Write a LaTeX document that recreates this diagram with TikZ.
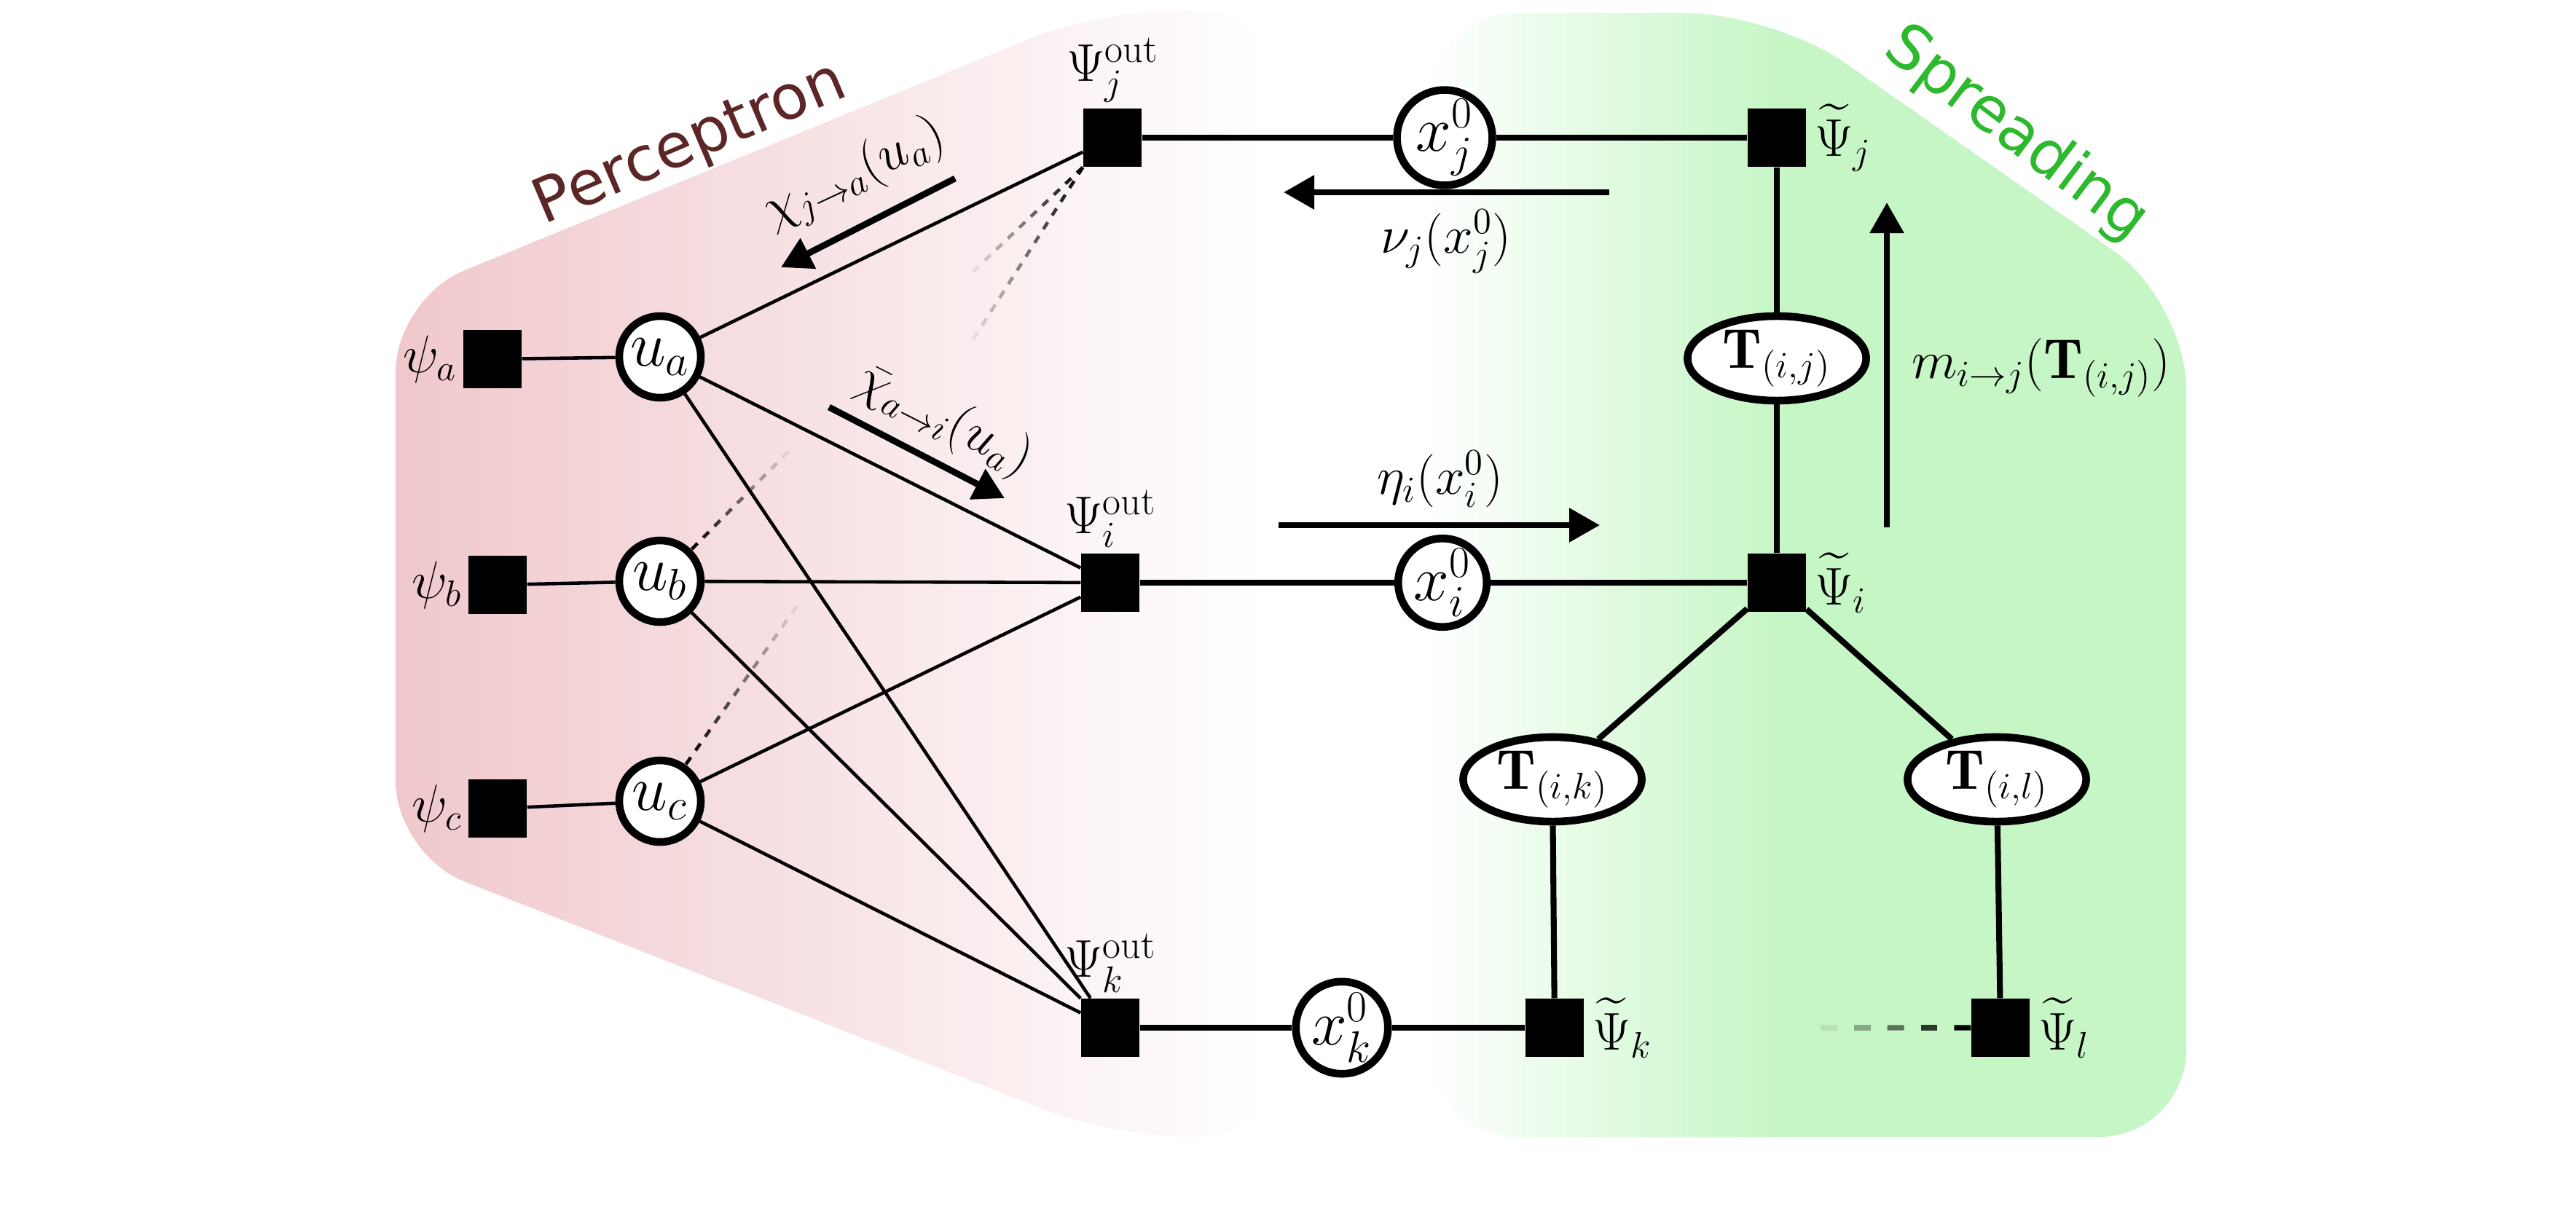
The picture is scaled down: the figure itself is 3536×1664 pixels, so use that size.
\documentclass[tikz,border=0pt]{standalone}
\usepackage{amsmath}
\usepackage{fontspec}
\newfontfamily\dejavu{DejaVu Sans}
\usetikzlibrary{shapes.geometric,arrows.meta,calc}
\definecolor{pinkc}{RGB}{240,200,204}
\definecolor{greenc}{RGB}{198,246,198}
\definecolor{perccol}{RGB}{92,38,38}
\definecolor{spreadcol}{RGB}{45,185,45}
\newcommand\fadedash[4]{%
  \foreach \k in {1,...,#3}{%
    \pgfmathsetmacro\fa{(\k-1)/#3}%
    \pgfmathsetmacro\fb{(\k-0.5)/#3}%
    \pgfmathsetmacro\op{1-0.92*(\k-1)/(#3-1)}%
    \draw[line width=#4, draw opacity=\op] ($(#1)!\fa!(#2)$) -- ($(#1)!\fb!(#2)$);
  }}
\tikzset{
  every node/.style={font=\fontsize{22}{26}\selectfont},
  fac/.style={fill=black, minimum size=0.8cm, inner sep=0pt},
  var/.style={circle, draw, line width=3pt, fill=white, minimum size=1.12cm, inner sep=0pt, font=\fontsize{23.5}{27}\selectfont},
  tvar/.style={ellipse, draw, line width=3pt, fill=white, minimum width=2.45cm, minimum height=1.16cm, inner sep=0pt},
  thinedge/.style={line width=1.3pt},
  thickedge/.style={line width=2.3pt},
  msg/.style={line width=2.5pt, -{Triangle[length=0.42cm,width=0.45cm]}},
  grouplabel/.style={font=\dejavu\fontsize{24}{28}\selectfont},
}
\begin{document}
\begin{tikzpicture}[x=0.01cm, y=-0.01cm]
\useasboundingbox (0,0) rectangle (3536,1664);
% ---------- backgrounds ----------
\begin{scope}
  \clip[rounded corners=1cm]
    (1750,15) -- (1507,15) -- (543,410) -- (543,1173) -- (1529,1561) -- (1750,1561) -- cycle;
  \foreach \k in {0,...,59}{%
    \pgfmathsetmacro\pc{100-100*\k/59}%
    \fill[pinkc!\pc!white] ({540+20*\k},0) rectangle ({540+20*\k+22},1700);
  }
\end{scope}
\begin{scope}
  \clip[rounded corners=1.2cm] (1960,18) -- (2435,18) -- (3001,414) -- (3001,1561) -- (1960,1561) -- cycle;
  \fill[greenc] (2430,0) rectangle (3100,1700);
  \foreach \k in {0,...,24}{%
    \pgfmathsetmacro\gc{100*\k/24}%
    \fill[greenc!\gc!white] ({1950+20*\k},0) rectangle ({1950+20*\k+22},1700);
  }
\end{scope}
\node[grouplabel, text=perccol, rotate=23] (perc) at (948,199) {Perceptron};
\node[grouplabel, text=spreadcol, rotate=-37] (spread) at (2767,184) {Spreading};
% ---------- nodes ----------
\node[fac, label={[inner sep=2pt]left:$\psi_a$}] (psia) at (676,493) {};
\node[fac, label={[inner sep=2pt]left:$\psi_b$}] (psib) at (683,803) {};
\node[fac, label={[inner sep=2pt]left:$\psi_c$}] (psic) at (683,1110) {};
\node[var] (ua) at (906,490) {$u_a$};
\node[var] (ub) at (906,798) {$u_b$};
\node[var] (uc) at (906,1100) {$u_c$};
\node[fac, label={[inner sep=2pt]above:$\Psi_j^{\mathrm{out}}$}] (Pj) at (1527,189) {};
\node[fac, label={[inner sep=2pt]above:$\Psi_i^{\mathrm{out}}$}] (Pi) at (1524,800) {};
\node[fac, label={[inner sep=2pt]above:$\Psi_k^{\mathrm{out}}$}] (Pk) at (1524,1411) {};
\node[var] (xj) at (1983,189) {$x_j^0$};
\node[var] (xi) at (1980,800) {$x_i^0$};
\node[var] (xk) at (1842,1411) {$x_k^0$};
\node[fac, label={[inner sep=3pt]right:$\widetilde{\Psi}_j$}] (Tj) at (2439,189) {};
\node[fac, label={[inner sep=3pt]right:$\widetilde{\Psi}_i$}] (Ti) at (2439,800) {};
\node[fac, label={[inner sep=3pt]right:$\widetilde{\Psi}_k$}] (Tk) at (2134,1411) {};
\node[fac, label={[inner sep=3pt]right:$\widetilde{\Psi}_l$}] (Tl) at (2746,1411) {};
\node[tvar] (Tij) at (2439,492) {$\mathbf{T}_{(i,j)}$};
\node[tvar] (Tik) at (2131,1070) {$\mathbf{T}_{(i,k)}$};
\node[tvar] (Til) at (2741,1070) {$\mathbf{T}_{(i,l)}$};
% ---------- edges ----------
\draw[thinedge] (psia) -- (ua);
\draw[thinedge] (psib) -- (ub);
\draw[thinedge] (psic) -- (uc);
\draw[thinedge] (ua) -- (Pj);
\draw[thinedge] (ua) -- (Pi);
\draw[thinedge] (ua) -- (Pk);
\draw[thinedge] (ub) -- (Pi);
\draw[thinedge] (ub) -- (Pk);
\draw[thinedge] (uc) -- (Pi);
\draw[thinedge] (uc) -- (Pk);
\draw[thickedge] (Pj) -- (xj);
\draw[thickedge] (xj) -- (Tj);
\draw[thickedge] (Pi) -- (xi);
\draw[thickedge] (xi) -- (Ti);
\draw[thickedge] (Pk) -- (xk);
\draw[thickedge] (xk) -- (Tk);
\draw[thickedge] (Tj) -- (Tij);
\draw[thickedge] (Tij) -- (Ti);
\draw[thickedge] (Ti) -- (Tik);
\draw[thickedge] (Ti) -- (Til);
\draw[thickedge] (Tik) -- (Tk);
\draw[thickedge] (Til) -- (Tl);
% ---------- faded dashed edges ----------
\coordinate (pjd1) at (1328,380);
\coordinate (pjd2) at (1330,475);
\coordinate (ube) at (1090,612);
\coordinate (uce) at (1100,823);
\coordinate (ubs) at ($(ub)!0.62cm!(ube)$);
\coordinate (ucs) at ($(uc)!0.62cm!(uce)$);
\coordinate (tle) at (2476,1411);
\fadedash{Pj.south west}{pjd1}{10}{1.3pt}
\fadedash{Pj.south west}{pjd2}{13}{1.3pt}
\fadedash{ubs}{ube}{9}{1.3pt}
\fadedash{ucs}{uce}{12}{1.3pt}
\fadedash{Tl.west}{tle}{5}{2.1pt}
% ---------- messages ----------
\coordinate (chis) at (1311,245);  \coordinate (chie) at (1072,367);
\coordinate (chbs) at (1138,559);  \coordinate (chbe) at (1379,684);
\coordinate (nus) at (2209,264);   \coordinate (nue) at (1762,264);
\coordinate (etas) at (1755,721);  \coordinate (etae) at (2196,721);
\coordinate (ms) at (2590,724);    \coordinate (me) at (2590,278);
\draw[msg] (chis) -- (chie);
\draw[msg] (chbs) -- (chbe);
\draw[msg] (nus) -- (nue);
\draw[msg] (etas) -- (etae);
\draw[msg] (ms) -- (me);
\node[rotate=25] (chil) at (1173,240) {$\chi_{j\to a}(u_a)$};
\node[rotate=-27] (chbl) at (1296,577) {$\bar{\chi}_{a\to i}(u_a)$};
\node (nul) at (1985,332) {$\nu_j(x_j^0)$};
\node (etal) at (1977,658) {$\eta_i(x_i^0)$};
\node[anchor=west] (ml) at (2612,505) {$m_{i\to j}(\mathbf{T}_{(i,j)})$};
\end{tikzpicture}
\end{document}
